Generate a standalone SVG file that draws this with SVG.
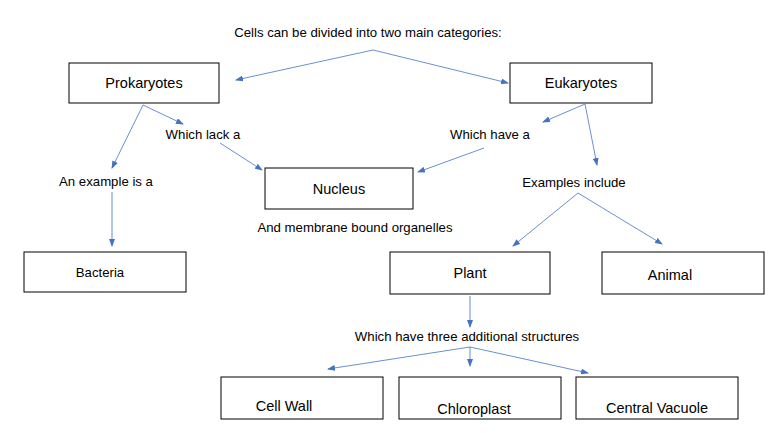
<svg xmlns="http://www.w3.org/2000/svg" width="768" height="433" viewBox="0 0 768 433">
<defs>
<marker id="ah" markerWidth="8" markerHeight="6" refX="7" refY="3" orient="auto" markerUnits="userSpaceOnUse"><path d="M0,0 L8,3 L0,6 z" fill="#4472C4"/></marker>
<style>
.box{fill:#fff;stroke:#000;stroke-width:1}
text{font-family:"Liberation Sans",Arial,sans-serif;font-size:13.2px;fill:#000;text-anchor:middle}
.big{font-size:14.5px}
.c line{stroke:#4472C4;stroke-width:0.8;marker-end:url(#ah)}
</style>
</defs>
<rect width="768" height="433" fill="#fff"/>
<text x="368" y="37">Cells can be divided into two main categories:</text>
<text x="203" y="139">Which lack a</text>
<text x="106" y="186">An example is a</text>
<text x="490" y="139">Which have a</text>
<text x="574" y="187">Examples include</text>
<text x="355" y="232">And membrane bound organelles</text>
<text x="467" y="341">Which have three additional structures</text>
<g id="prokaryotes"><rect class="box" x="69" y="63" width="150" height="40"/><text class="big" x="144" y="88">Prokaryotes</text></g>
<g id="eukaryotes"><rect class="box" x="510" y="63" width="142" height="40"/><text class="big" x="581" y="88">Eukaryotes</text></g>
<g id="nucleus"><rect class="box" x="265" y="168" width="148" height="41"/><text class="big" x="339" y="194">Nucleus</text></g>
<g id="bacteria"><rect class="box" x="24" y="252" width="162" height="40"/><text x="100" y="277">Bacteria</text></g>
<g id="plant"><rect class="box" x="390" y="252" width="160" height="42"/><text class="big" x="470" y="278">Plant</text></g>
<g id="animal"><rect class="box" x="602" y="252" width="162" height="42"/><text class="big" x="670" y="280">Animal</text></g>
<g id="cellwall"><rect class="box" x="221" y="377" width="162" height="42"/><text class="big" x="284" y="411">Cell Wall</text></g>
<g id="chloroplast"><rect class="box" x="399" y="377" width="162" height="42"/><text class="big" x="474" y="414">Chloroplast</text></g>
<g id="vacuole"><rect class="box" x="576" y="377" width="162" height="42"/><text class="big" x="657" y="413">Central Vacuole</text></g>
<g class="c" id="connectors">
<line x1="373" y1="50" x2="236" y2="80"/>
<line x1="373" y1="50" x2="508" y2="83"/>
<line x1="143" y1="105" x2="112" y2="168"/>
<line x1="143" y1="105" x2="183" y2="124"/>
<line x1="220" y1="143" x2="262" y2="170"/>
<line x1="112" y1="192" x2="112" y2="246"/>
<line x1="585" y1="104" x2="543" y2="122"/>
<line x1="585" y1="104" x2="597" y2="165"/>
<line x1="484" y1="148" x2="418" y2="172"/>
<line x1="578" y1="193" x2="513" y2="246"/>
<line x1="578" y1="193" x2="662" y2="244"/>
<line x1="470" y1="296" x2="470" y2="327"/>
<line x1="470" y1="347" x2="328" y2="369"/>
<line x1="470" y1="347" x2="470" y2="366"/>
<line x1="470" y1="347" x2="588" y2="373"/>
</g>
</svg>
